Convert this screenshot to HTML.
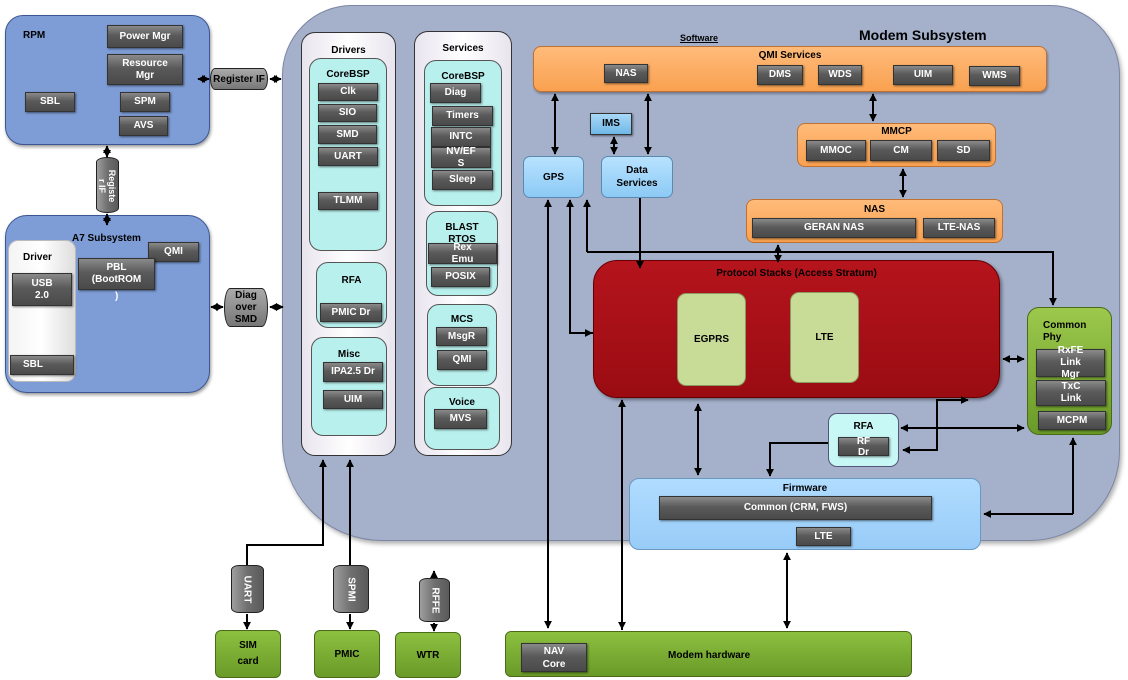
<!DOCTYPE html>
<html><head><meta charset="utf-8"><style>
*{margin:0;padding:0;box-sizing:border-box}
body{width:1128px;height:680px;background:#fff;position:relative;overflow:hidden;font-family:"Liberation Sans",sans-serif;font-weight:bold;font-size:10px;color:#000}
div{position:absolute}
.b{background:linear-gradient(#8a8a8a,#5a5a5a 45%,#4a4a4a);border:1px solid #333;color:#fff;text-align:center;display:flex;align-items:center;justify-content:center;line-height:12px;box-shadow:1px 1px 2px rgba(0,0,0,.5);font-size:10px}
.t{text-align:center;width:100%;left:0}
.cy{background:linear-gradient(90deg,#9e9e9e,#6f6f6f 50%,#5a5a5a);border:1px solid #222;border-radius:8px/5px;color:#fff}
</style></head><body>
<!-- Modem subsystem -->
<div style="left:282px;top:5px;width:838px;height:536px;background:#a5b0cb;border:1px solid #7b87a5;border-radius:70px 70px 90px 100px;box-shadow:2px 3px 4px rgba(0,0,0,.3)"></div>
<div style="left:680px;top:33px;font-size:9px;text-decoration:underline">Software</div>
<div style="left:859px;top:27px;font-size:14px">Modem Subsystem</div>

<!-- RPM -->
<div style="left:5px;top:15px;width:205px;height:130px;background:#7e9dd6;border:1px solid #3c5694;border-radius:18px;box-shadow:1px 2px 3px rgba(0,0,0,.4)"></div>
<div style="left:23px;top:30px">RPM</div>
<div class="b" style="left:107px;top:25px;width:76px;height:23px">Power Mgr</div>
<div class="b" style="left:107px;top:54px;width:76px;height:31px">Resource<br>Mgr</div>
<div class="b" style="left:25px;top:92px;width:50px;height:20px">SBL</div>
<div class="b" style="left:120px;top:92px;width:50px;height:20px">SPM</div>
<div class="b" style="left:119px;top:116px;width:49px;height:20px">AVS</div>

<!-- A7 -->
<div style="left:5px;top:215px;width:205px;height:178px;background:#7e9dd6;border:1px solid #3c5694;border-radius:22px;box-shadow:1px 2px 3px rgba(0,0,0,.4)"></div>
<div style="left:72px;top:233px">A7 Subsystem</div>
<div style="left:8px;top:240px;width:68px;height:142px;background:linear-gradient(90deg,#f4f4f4,#fff 50%,#ddd);border-radius:10px;border:1px solid #bbb"></div>
<div style="left:23px;top:252px">Driver</div>
<div class="b" style="left:12px;top:273px;width:60px;height:33px">USB<br>2.0</div>
<div class="b" style="left:10px;top:355px;width:64px;height:20px;justify-content:flex-start;padding-left:12px">SBL</div>
<div class="b" style="left:148px;top:242px;width:51px;height:20px">QMI</div>
<div class="b" style="left:78px;top:258px;width:77px;height:32px;align-items:flex-start;padding-top:3px">PBL<br>(BootROM</div>
<div style="left:115px;top:291px;color:#fff">)</div>

<!-- Drivers -->
<div style="left:301px;top:32px;width:95px;height:424px;background:linear-gradient(90deg,#e8e4ee,#fff 50%,#e8e4ee);border:1px solid #333;border-radius:14px"></div>
<div style="left:301px;top:45px;width:95px;text-align:center">Drivers</div>
<div style="left:309px;top:58px;width:78px;height:193px;background:#b8f0ee;border:1px solid #555;border-radius:12px"></div>
<div style="left:309px;top:69px;width:78px;text-align:center">CoreBSP</div>
<div class="b" style="left:318px;top:83px;width:60px;height:18px">Clk</div>
<div class="b" style="left:318px;top:104px;width:59px;height:18px">SIO</div>
<div class="b" style="left:318px;top:125px;width:59px;height:19px">SMD</div>
<div class="b" style="left:318px;top:147px;width:60px;height:19px">UART</div>
<div class="b" style="left:318px;top:192px;width:60px;height:18px">TLMM</div>
<div style="left:316px;top:262px;width:71px;height:66px;background:#b8f0ee;border:1px solid #555;border-radius:12px"></div>
<div style="left:316px;top:275px;width:71px;text-align:center">RFA</div>
<div class="b" style="left:320px;top:303px;width:62px;height:19px">PMIC Dr</div>
<div style="left:311px;top:337px;width:76px;height:99px;background:#b8f0ee;border:1px solid #555;border-radius:12px"></div>
<div style="left:311px;top:349px;width:76px;text-align:center">Misc</div>
<div class="b" style="left:323px;top:362px;width:60px;height:20px">IPA2.5 Dr</div>
<div class="b" style="left:323px;top:390px;width:60px;height:19px">UIM</div>

<!-- Services -->
<div style="left:414px;top:31px;width:98px;height:425px;background:linear-gradient(90deg,#e8e4ee,#fff 50%,#e8e4ee);border:1px solid #333;border-radius:14px"></div>
<div style="left:414px;top:43px;width:98px;text-align:center">Services</div>
<div style="left:424px;top:60px;width:78px;height:146px;background:#b8f0ee;border:1px solid #555;border-radius:12px"></div>
<div style="left:424px;top:71px;width:78px;text-align:center">CoreBSP</div>
<div class="b" style="left:430px;top:83px;width:51px;height:20px">Diag</div>
<div class="b" style="left:432px;top:106px;width:61px;height:20px">Timers</div>
<div class="b" style="left:431px;top:127px;width:60px;height:20px">INTC</div>
<div class="b" style="left:431px;top:147px;width:60px;height:21px">NV/EF<br>S</div>
<div class="b" style="left:432px;top:170px;width:61px;height:20px">Sleep</div>
<div style="left:426px;top:211px;width:72px;height:85px;background:#b8f0ee;border:1px solid #555;border-radius:12px"></div>
<div style="left:426px;top:222px;width:72px;text-align:center;line-height:12px">BLAST<br>RTOS</div>
<div class="b" style="left:428px;top:243px;width:69px;height:21px">Rex<br>Emu</div>
<div class="b" style="left:431px;top:267px;width:59px;height:20px">POSIX</div>
<div style="left:427px;top:304px;width:70px;height:82px;background:#b8f0ee;border:1px solid #555;border-radius:12px"></div>
<div style="left:427px;top:314px;width:70px;text-align:center">MCS</div>
<div class="b" style="left:436px;top:327px;width:51px;height:19px">MsgR</div>
<div class="b" style="left:437px;top:350px;width:50px;height:20px">QMI</div>
<div style="left:424px;top:387px;width:76px;height:63px;background:#b8f0ee;border:1px solid #555;border-radius:12px"></div>
<div style="left:424px;top:397px;width:76px;text-align:center">Voice</div>
<div class="b" style="left:434px;top:409px;width:53px;height:20px">MVS</div>

<!-- QMI Services -->
<div style="left:533px;top:46px;width:514px;height:46px;background:linear-gradient(#ffbb7a,#f9a150);border:1px solid #c07030;border-radius:8px;box-shadow:1px 2px 2px rgba(0,0,0,.3)"></div>
<div style="left:533px;top:50px;width:514px;text-align:center">QMI Services</div>
<div class="b" style="left:604px;top:64px;width:44px;height:19px">NAS</div>
<div class="b" style="left:757px;top:65px;width:46px;height:20px">DMS</div>
<div class="b" style="left:818px;top:65px;width:44px;height:20px">WDS</div>
<div class="b" style="left:893px;top:65px;width:60px;height:20px">UIM</div>
<div class="b" style="left:969px;top:66px;width:51px;height:20px">WMS</div>

<div class="b" style="left:590px;top:113px;width:42px;height:22px;background:linear-gradient(#a8d8f8,#70b8e8);color:#000">IMS</div>
<div style="left:523px;top:156px;width:61px;height:42px;background:linear-gradient(#b8e2ff,#8ccaf5);border:1px solid #5a8ab0;border-radius:7px;display:flex;align-items:center;justify-content:center">GPS</div>
<div style="left:601px;top:156px;width:72px;height:42px;background:linear-gradient(#b8e2ff,#8ccaf5);border:1px solid #5a8ab0;border-radius:7px;display:flex;align-items:center;justify-content:center;text-align:center;line-height:13px">Data<br>Services</div>

<!-- MMCP -->
<div style="left:797px;top:123px;width:199px;height:44px;background:linear-gradient(#ffbb7a,#f9a150);border:1px solid #c07030;border-radius:8px"></div>
<div style="left:797px;top:126px;width:199px;text-align:center">MMCP</div>
<div class="b" style="left:806px;top:140px;width:60px;height:21px">MMOC</div>
<div class="b" style="left:870px;top:140px;width:62px;height:21px">CM</div>
<div class="b" style="left:937px;top:140px;width:53px;height:21px">SD</div>

<!-- NAS -->
<div style="left:746px;top:199px;width:257px;height:44px;background:linear-gradient(#ffbb7a,#f9a150);border:1px solid #c07030;border-radius:8px"></div>
<div style="left:746px;top:204px;width:257px;text-align:center">NAS</div>
<div class="b" style="left:752px;top:218px;width:164px;height:20px">GERAN NAS</div>
<div class="b" style="left:923px;top:218px;width:72px;height:20px">LTE-NAS</div>

<!-- Protocol stacks -->
<div style="left:593px;top:260px;width:407px;height:138px;background:linear-gradient(#b5141c,#9a0c12);border:1px solid #600;border-radius:24px;box-shadow:2px 2px 3px rgba(0,0,0,.4)"></div>
<div style="left:593px;top:268px;width:407px;text-align:center">Protocol Stacks (Access Stratum)</div>
<div style="left:677px;top:293px;width:69px;height:93px;background:#c8dc98;border:1px solid #8a9a60;border-radius:9px;display:flex;align-items:center;justify-content:center">EGPRS</div>
<div style="left:790px;top:292px;width:69px;height:91px;background:#c8dc98;border:1px solid #8a9a60;border-radius:9px;display:flex;align-items:center;justify-content:center">LTE</div>

<!-- Common Phy -->
<div style="left:1027px;top:307px;width:85px;height:128px;background:linear-gradient(#9cc84c,#6a9a28);border:1px solid #4a6a18;border-radius:12px"></div>
<div style="left:1043px;top:320px;line-height:12px">Common<br>Phy</div>
<div class="b" style="left:1036px;top:349px;width:69px;height:28px;font-size:10px">RxFE<br>Link<br>Mgr</div>
<div class="b" style="left:1036px;top:380px;width:70px;height:26px">TxC<br>Link</div>
<div class="b" style="left:1038px;top:411px;width:68px;height:19px">MCPM</div>

<!-- RFA small -->
<div style="left:828px;top:413px;width:71px;height:54px;background:#c8f8f6;border:1px solid #557;border-radius:9px"></div>
<div style="left:828px;top:421px;width:71px;text-align:center">RFA</div>
<div class="b" style="left:838px;top:437px;width:51px;height:19px;line-height:11px">RF<br>Dr</div>

<!-- Firmware -->
<div style="left:629px;top:478px;width:352px;height:72px;background:linear-gradient(#b0dcff,#98ccf8);border:1px solid #6a98c0;border-radius:10px"></div>
<div style="left:629px;top:483px;width:352px;text-align:center">Firmware</div>
<div class="b" style="left:659px;top:496px;width:273px;height:24px">Common (CRM, FWS)</div>
<div class="b" style="left:796px;top:527px;width:55px;height:19px">LTE</div>

<!-- bottom green -->
<div style="left:215px;top:630px;width:66px;height:48px;background:linear-gradient(#8cc040,#6a9a28);border:1px solid #4a6a18;border-radius:6px;display:flex;align-items:center;justify-content:center;text-align:center;line-height:16px">SIM<br>card</div>
<div style="left:314px;top:630px;width:66px;height:48px;background:linear-gradient(#8cc040,#6a9a28);border:1px solid #4a6a18;border-radius:6px;display:flex;align-items:center;justify-content:center">PMIC</div>
<div style="left:395px;top:632px;width:66px;height:46px;background:linear-gradient(#8cc040,#6a9a28);border:1px solid #4a6a18;border-radius:6px;display:flex;align-items:center;justify-content:center">WTR</div>
<div style="left:505px;top:631px;width:407px;height:46px;background:linear-gradient(#8cc040,#6a9a28);border:1px solid #4a6a18;border-radius:6px"></div>
<div style="left:668px;top:650px">Modem hardware</div>
<div class="b" style="left:521px;top:643px;width:66px;height:29px;line-height:13px">NAV<br>Core</div>

<!-- cylinders -->
<div class="cy" style="left:210px;top:68px;width:58px;height:22px;background:linear-gradient(#aaa,#777);color:#000;display:flex;align-items:center;justify-content:center;border-radius:5px/11px">Register IF</div>
<div class="cy" style="left:96px;top:157px;width:23px;height:56px;border-radius:11px/5px"></div>
<div style="left:78px;top:176px;width:58px;color:#fff;transform:rotate(90deg);text-align:center;line-height:10px;font-size:9px">Registe<br>r IF</div>
<div class="cy" style="left:224px;top:288px;width:44px;height:39px;background:linear-gradient(#aaa,#777);color:#000;display:flex;align-items:center;justify-content:center;text-align:center;line-height:12px;border-radius:6px/19px">Diag<br>over<br>SMD</div>
<div class="cy" style="left:231px;top:565px;width:33px;height:48px"></div>
<div style="left:222px;top:584px;width:50px;color:#fff;transform:rotate(90deg);text-align:center">UART</div>
<div class="cy" style="left:333px;top:565px;width:36px;height:48px"></div>
<div style="left:326px;top:584px;width:50px;color:#fff;transform:rotate(90deg);text-align:center">SPMI</div>
<div class="cy" style="left:419px;top:578px;width:31px;height:44px"></div>
<div style="left:410px;top:595px;width:50px;color:#fff;transform:rotate(90deg);text-align:center">RFFE</div>

<svg width="1128" height="680" style="position:absolute;left:0;top:0" fill="none" stroke="#000" stroke-width="2">
<defs><marker id="a" viewBox="0 0 10 10" refX="9" refY="5" markerWidth="4" markerHeight="4" orient="auto-start-reverse"><path d="M0,0L10,5L0,10z" fill="#000" stroke="none"/></marker></defs>
<g marker-start="url(#a)" marker-end="url(#a)">
<line x1="198" y1="79" x2="209" y2="79"/><line x1="270" y1="79" x2="281" y2="79"/>
<line x1="107" y1="146" x2="107" y2="157"/><line x1="107" y1="214" x2="107" y2="225"/>
<line x1="211" y1="307" x2="223" y2="307"/><line x1="270" y1="307" x2="283" y2="307"/>
<line x1="555" y1="94" x2="555" y2="154"/>
<line x1="648" y1="94" x2="648" y2="154"/>
<line x1="614" y1="137" x2="614" y2="154"/>
<line x1="873" y1="94" x2="873" y2="121"/>
<line x1="903" y1="169" x2="903" y2="197"/>
<line x1="778" y1="245" x2="778" y2="262"/>
<line x1="698" y1="404" x2="698" y2="475"/>
<line x1="787" y1="553" x2="787" y2="628"/>
<line x1="901" y1="428" x2="1024" y2="428"/>
<line x1="1003" y1="359" x2="1024" y2="359"/>
<line x1="548" y1="200" x2="548" y2="628"/>
</g>
<g marker-end="url(#a)">
<polyline points="622,630 622,400"/>
<line x1="622" y1="600" x2="622" y2="629"/>
<line x1="640" y1="198" x2="640" y2="268"/>
<polyline points="587,252 587,200"/>
<polyline points="587,252 1053,252 1053,305"/>
<polyline points="593,333 570,333 570,200"/>
<line x1="581" y1="333" x2="592" y2="333"/>
<polyline points="828,443 770,443 770,476"/>
<polyline points="937,420 937,400 968,400"/>
<polyline points="937,420 937,450 903,450"/>
<polyline points="1073,514 984,514"/>
<polyline points="1073,514 1073,438"/>
<polyline points="247,565 247,545 323,545 323,460"/>
<line x1="350" y1="565" x2="350" y2="460"/>
<line x1="247" y1="614" x2="247" y2="629"/>
<line x1="350" y1="614" x2="350" y2="629"/>
<line x1="434" y1="578" x2="434" y2="571"/>
<line x1="434" y1="623" x2="434" y2="631"/>
</g>
</svg>
</body></html>
